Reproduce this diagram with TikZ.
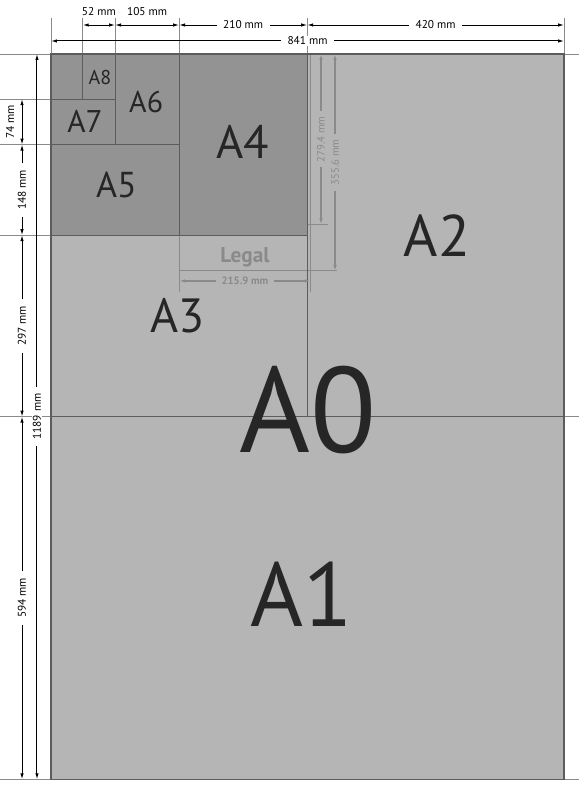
\documentclass[tikz,border=0pt]{standalone}
\usepackage{fontspec}
\setmainfont{PT Sans}
\usetikzlibrary{arrows.meta}
\definecolor{paperlight}{HTML}{B5B5B5}
\definecolor{paperdark}{HTML}{939393}
\definecolor{edgegray}{HTML}{5C5C5C}
\definecolor{guidegray}{HTML}{8A8A8A}
\definecolor{legalgray}{HTML}{8A8A8A}
\definecolor{labelink}{HTML}{262626}
\begin{document}
\begin{tikzpicture}[x=0.4575pt, y=-0.4575pt,
    papername/.style={text=labelink, inner sep=0pt},
    guideline/.style={draw=guidegray, line width=0.6pt},
    cutline/.style={draw=edgegray, line width=0.8pt},
    legalline/.style={draw=legalgray, line width=0.8pt},
    dimension/.style={{Latex[length=4.5pt,width=2.6pt]}-{Latex[length=4.5pt,width=2.6pt]}, line width=0.75pt},
    legaldim/.style={dimension, draw=legalgray, fill=legalgray, line width=0.9pt},
    dimtext/.style={fill=white, inner xsep=5pt, inner ysep=1pt, font=\fontsize{8.5}{9}\selectfont},
    legaltext/.style={fill=paperlight, text=legalgray, inner xsep=4pt, inner ysep=1pt, font=\fontsize{8}{9}\selectfont}]
   \useasboundingbox (-83.6,-88.5) rectangle (865.6,1213.1);
   \fill[paperlight] (0,0) rectangle (841,1189);
   \fill[paperdark] (0,0) rectangle (420,297);

   \draw[legalline] (210,0) to (210,390);
   \draw[legalline] (425.9,0) to (425.9,390);
   \draw[legalline] (210,355.6) to (469,355.6);
   \draw[legalline] (420,279.4) to (454,279.4);

   \draw[guideline] (-83.6,0) to (865.6,0);
   \draw[guideline] (-83.6,594.5) to (865.6,594.5);
   \draw[guideline] (-83.6,1189) to (865.6,1189);
   \draw[guideline] (-83.6,74) to (105,74);
   \draw[guideline] (-83.6,148.5) to (210,148.5);
   \draw[guideline] (-83.6,297) to (420,297);
   \draw[guideline] (0,-59) to (0,1189);
   \draw[guideline] (841,-59) to (841,1189);
   \draw[guideline] (52,-59) to (52,74);
   \draw[guideline] (105,-59) to (105,148.5);
   \draw[guideline] (210,-59) to (210,297);
   \draw[guideline] (420,-59) to (420,594.5);

   \draw[cutline] (0,0) rectangle (841,1189);
   \draw[cutline] (0,594.5) to (841,594.5);
   \draw[cutline] (420,0) to (420,594.5);
   \draw[cutline] (0,297) to (420,297);
   \draw[cutline] (210,0) to (210,297);
   \draw[cutline] (0,148.5) to (210,148.5);
   \draw[cutline] (105,0) to (105,148.5);
   \draw[cutline] (0,74) to (105,74);
   \draw[cutline] (52,0) to (52,74);

   \node[papername, font=\fontsize{15}{15}\selectfont] (A8) at (80.3,39.3) {A8};
   \node[papername, font=\fontsize{23.5}{24}\selectfont] (A7) at (55.7,110) {A7};
   \node[papername, font=\fontsize{22.5}{23}\selectfont] (A6) at (156,77.9) {A6};
   \node[papername, font=\fontsize{27}{28}\selectfont] (A5) at (107.4,214) {A5};
   \node[papername, font=\fontsize{35}{36}\selectfont] (A4) at (314,143.4) {A4};
   \node[papername, font=\fontsize{36}{37}\selectfont] (A3) at (207.4,429.5) {A3};
   \node[papername, font=\fontsize{44}{45}\selectfont] (A2) at (632.8,297.5) {A2};
   \node[papername, font=\fontsize{91}{92}\selectfont] (A0) at (422,583.6) {A0};
   \node[papername, font=\fontsize{68}{69}\selectfont] (A1) at (410.7,886.1) {A1};
   \node[papername, text=legalgray, font=\bfseries\fontsize{16}{17}\selectfont] (legal) at (318,333) {Legal};

   \coordinate (legalW1) at (210,372);
   \coordinate (legalW2) at (425.9,372);
   \coordinate (letterH1) at (442.6,0);
   \coordinate (letterH2) at (442.6,279.4);
   \coordinate (legalH1) at (465.6,0);
   \coordinate (legalH2) at (465.6,355.6);
   \draw[legaldim] (legalW1) to node[legaltext, font=\bfseries\fontsize{8}{9}\selectfont] {215.9 mm} (legalW2);
   \draw[legaldim] (letterH1) to node[legaltext, rotate=90] {279.4 mm} (letterH2);
   \draw[legaldim] (legalH1) to node[legaltext, rotate=90] {355.6 mm} (legalH2);

   \coordinate (top52) at (52,-47.5);
   \coordinate (top105) at (105,-47.5);
   \coordinate (top210) at (210,-47.5);
   \coordinate (top420) at (420,-47.5);
   \coordinate (top841) at (841,-47.5);
   \coordinate (wide0) at (0,-21.3);
   \coordinate (wide841) at (841,-21.3);
   \draw[dimension] (top52) to (top105);
   \draw[dimension] (top105) to (top210);
   \draw[dimension] (top210) to node[dimtext] {210 mm} (top420);
   \draw[dimension] (top420) to node[dimtext] {420 mm} (top841);
   \draw[dimension] (wide0) to node[dimtext] {841 mm} (wide841);
   \node[dimtext, fill=none] (w52) at (78.5,-68.9) {52 mm};
   \node[dimtext, fill=none] (w105) at (157.5,-68.9) {105 mm};

   \coordinate (tall0) at (-22.95,0);
   \coordinate (tall1189) at (-22.95,1189);
   \coordinate (side74) at (-47.5,74);
   \coordinate (side148) at (-47.5,148.5);
   \coordinate (side297) at (-47.5,297);
   \coordinate (side594) at (-47.5,594.5);
   \coordinate (side1189) at (-47.5,1189);
   \draw[dimension] (tall0) to node[dimtext, rotate=90] {1189 mm} (tall1189);
   \draw[dimension] (side74) to (side148);
   \draw[dimension] (side148) to node[dimtext, rotate=90] {148 mm} (side297);
   \draw[dimension] (side297) to node[dimtext, rotate=90] {297 mm} (side594);
   \draw[dimension] (side594) to node[dimtext, rotate=90] {594 mm} (side1189);
   \node[dimtext, fill=none, rotate=90] (h74) at (-67.2,111.25) {74 mm};
\end{tikzpicture}
\end{document}
